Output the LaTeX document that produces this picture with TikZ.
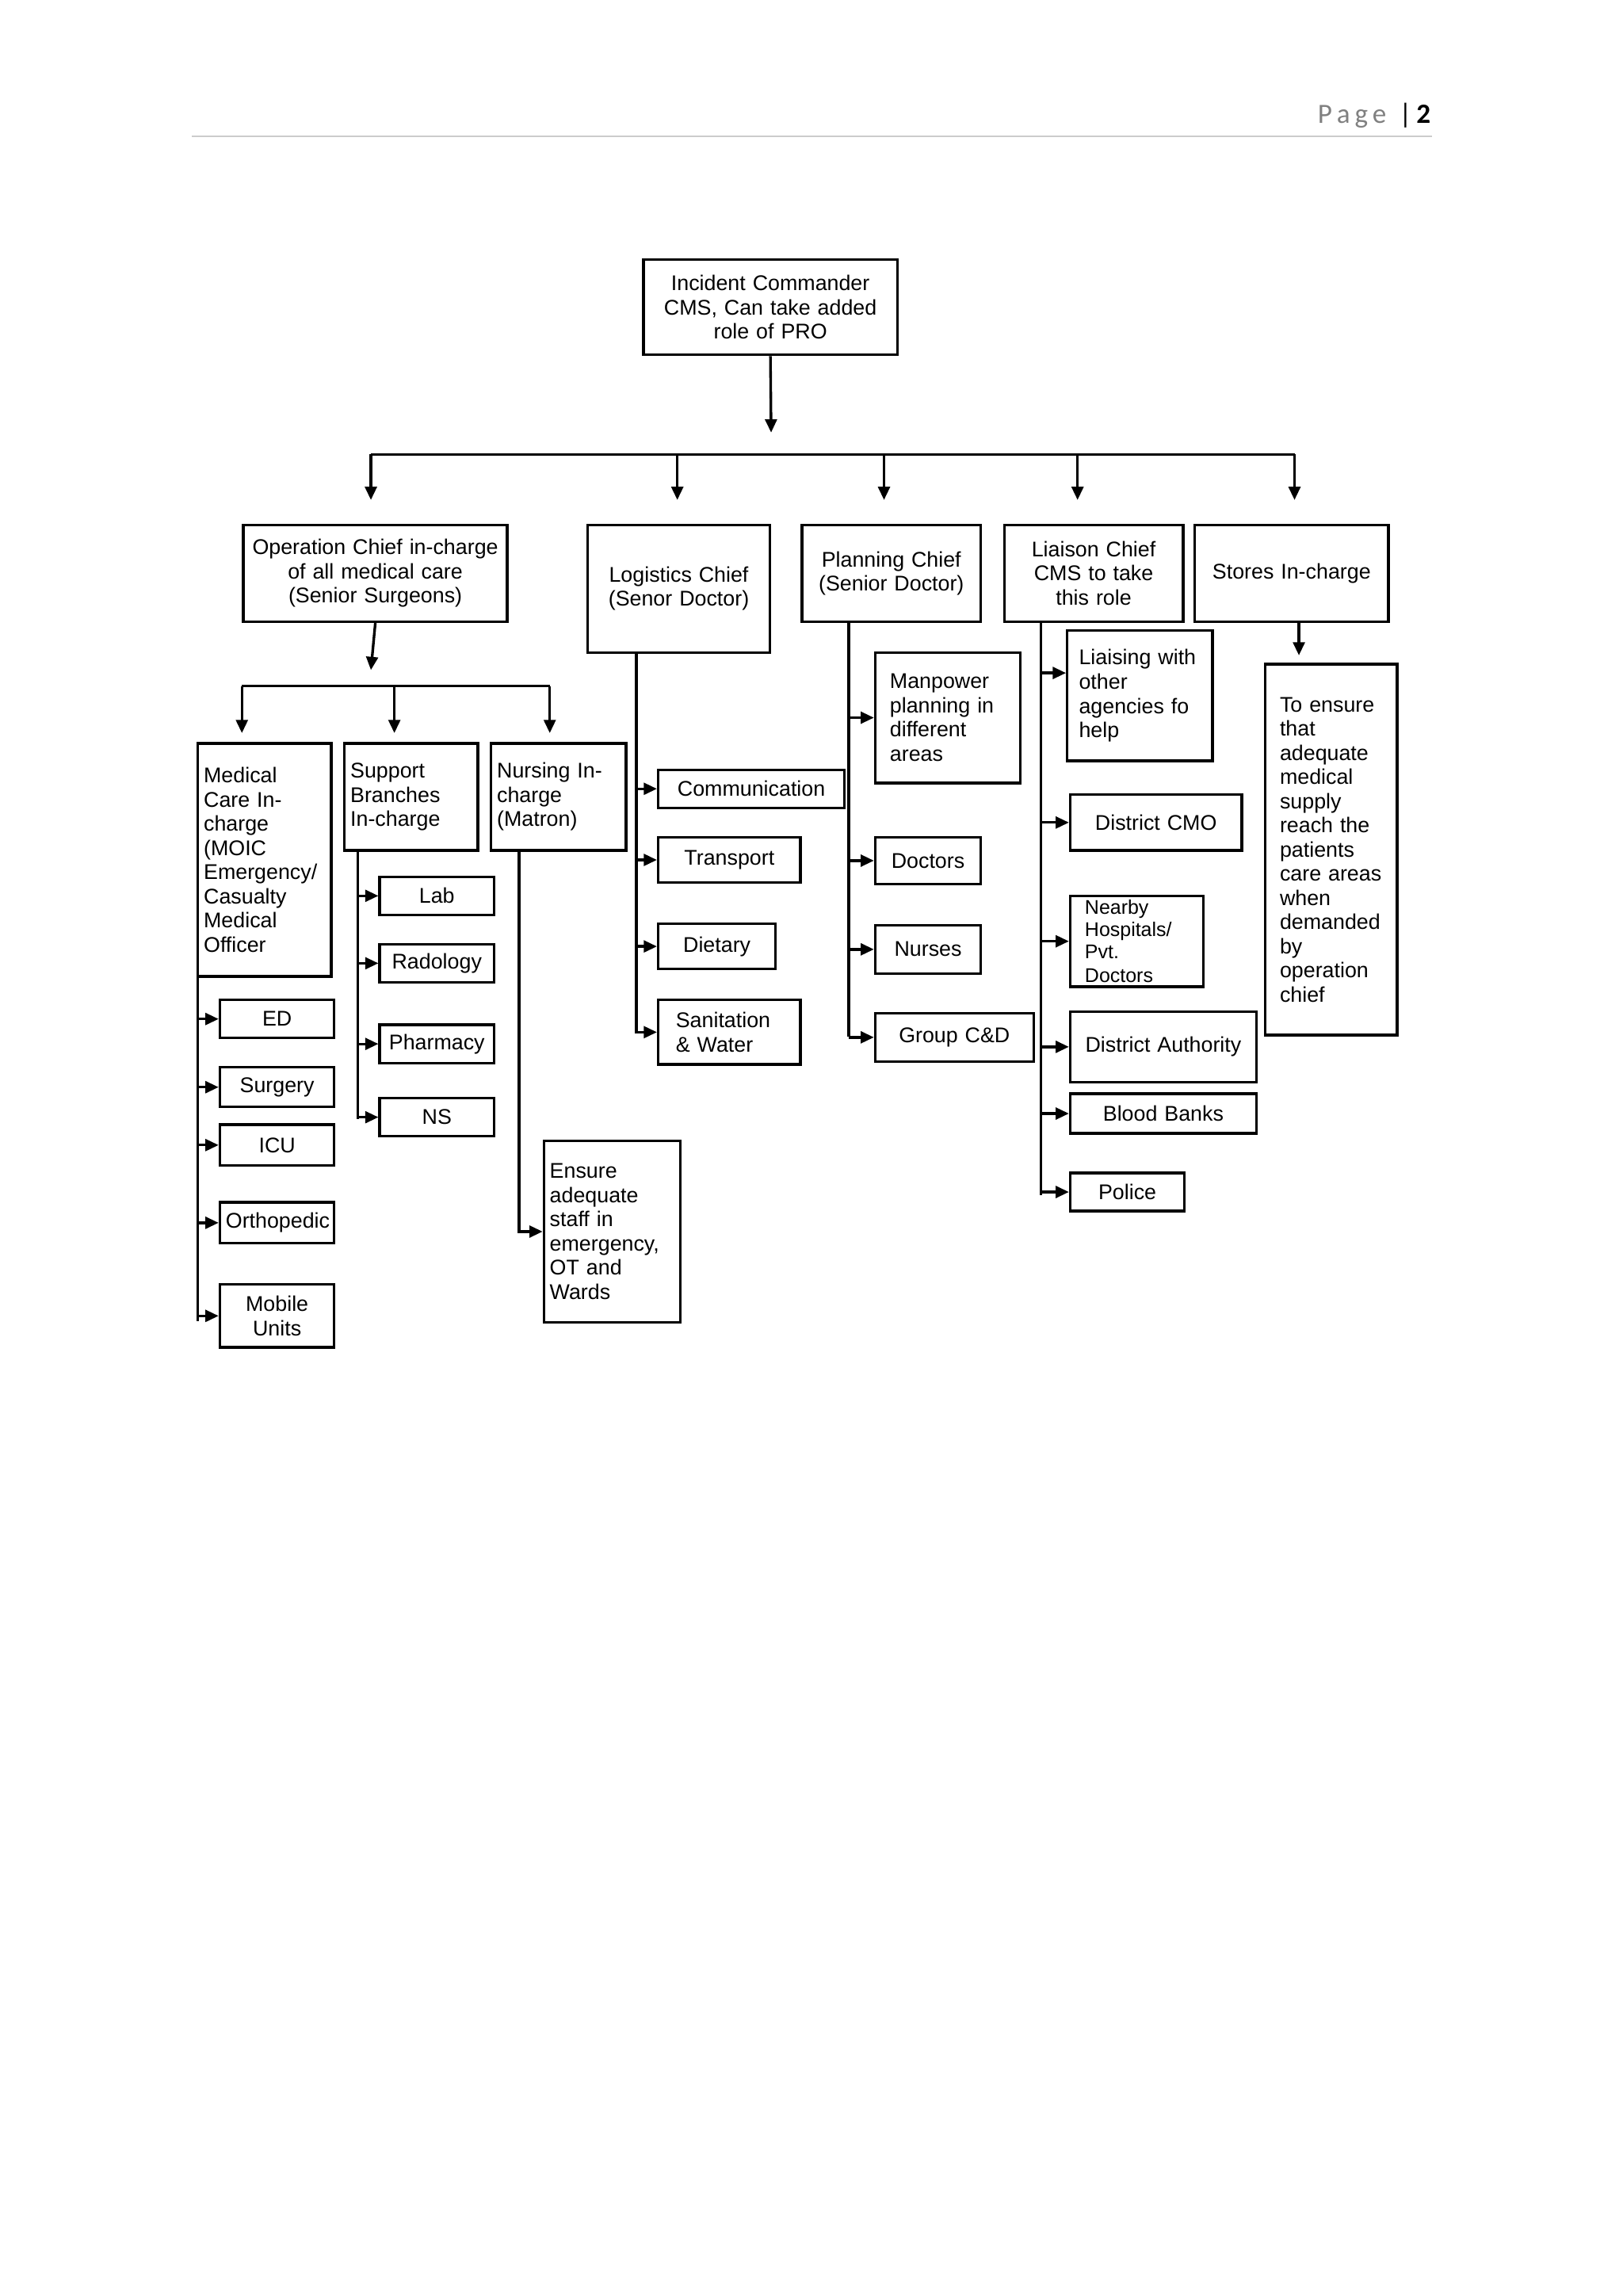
\documentclass[tikz,border=0pt]{standalone}
\usepackage{fontspec}
\setmainfont{Liberation Sans}
\newfontfamily\hdrfont{Carlito}
\usetikzlibrary{arrows.meta}
\newcommand\bx[7]{%
\pgfmathsetmacro\cx{(#2+#4)/2}\pgfmathsetmacro\cy{(#3+#5)/2}%
\pgfmathsetmacro\ww{#4-#2}\pgfmathsetmacro\hh{#5-#3}\pgfmathsetmacro\tw{#4-#2-8}%
\node[box,minimum width=\ww pt,minimum height=\hh pt,text width=\tw pt,align=#6] (#1) at (\cx,\cy) {#7};}
\begin{document}
\begin{tikzpicture}[x=1pt,y=-1pt,
  box/.style={draw,line width=1.8pt,inner xsep=4pt,inner ysep=0pt,font=\fontsize{14.5}{16.5}\selectfont},
  ln/.style={line width=1.8pt},
  arr/.style={line width=1.8pt,-{Triangle[length=9pt,width=8pt]}}]
\useasboundingbox[fill=white] (0,0) rectangle (1107,1566);
\node[anchor=east,font=\hdrfont\fontsize{19}{20}\selectfont,inner sep=0] (hdr) at (976,79) {\textcolor{gray}{P\,a\,g\,e}\ \ |\,\textbf{2}};
\draw[gray!40,line width=0.8pt] (131,93) coordinate (hl) -- (977,93) coordinate (hr);
\bx{ic}{439}{177}{612}{242}{center}{Incident Commander\\CMS, Can take added\\role of PRO}
\bx{op}{166}{358}{346}{424}{center}{Operation Chief in-charge\\of all medical care\\(Senior Surgeons)}
\bx{lg}{401}{358}{525}{445}{center}{Logistics Chief\\(Senor Doctor)}
\bx{pl}{547}{358}{669}{424}{center}{Planning Chief\\(Senior Doctor)}
\bx{li}{685}{358}{807}{424}{center}{Liaison Chief\\CMS to take\\this role}
\bx{st}{815}{358}{947}{424}{center}{Stores In-charge}
\coordinate (icend) at (526,295);
\draw[arr] (ic.south) -- (icend);
\coordinate (hL) at (253,310); \coordinate (hR) at (883,310);
\draw[ln] (hL) -- (hR);
\foreach \x/\n in {253/op,462/lg,603/pl,735/li,883/st}{\coordinate (t\n) at (\x,310); \draw[arr] (t\n) -- (\x,341);}
% operation
\coordinate (opa) at (253,457); \draw[arr] (op.south) -- (opa);
\coordinate (oL) at (165,468); \coordinate (oR) at (375,468);
\draw[ln] (oL) -- (oR);
\bx{md}{135}{507}{226}{666}{left}{Medical\\Care In-\\charge\\(MOIC\\Emergency/\\Casualty\\Medical\\Officer}
\bx{sp}{235}{507}{326}{580}{left}{Support\\Branches\\In-charge}
\bx{nu}{335}{507}{427}{580}{left}{Nursing In-\\charge\\(Matron)}
\draw[arr] (oL) -- (165,500); \draw[arr] (269,468) -- (269,500); \draw[arr] (oR) -- (375,500);
\bx{ed}{150}{682}{228}{708}{center}{ED}
\bx{su}{150}{728}{228}{755}{center}{Surgery}
\bx{icu}{150}{767}{228}{795}{center}{ICU}
\bx{or}{150}{820}{228}{848}{center}{Orthopedic}
\bx{mo}{150}{876}{228}{919}{center}{Mobile\\Units}
\coordinate (ms) at (135,666);
\draw[ln] (ms) -- (135,901);
\foreach \n in {ed,su,icu,or,mo} \draw[arr] (ms |- \n.west) -- (\n.west);
\bx{lab}{259}{598}{337}{624}{center}{Lab}
\bx{rad}{259}{644}{337}{670}{center}{Radology}
\bx{ph}{259}{699}{337}{725}{center}{Pharmacy}
\bx{ns}{259}{749}{337}{775}{center}{NS}
\coordinate (ss) at (244,580);
\draw[ln] (ss) -- (244,763);
\foreach \n in {lab,rad,ph,ns} \draw[arr] (ss |- \n.west) -- (\n.west);
\bx{en}{371}{778}{464}{902}{left}{Ensure\\adequate\\staff in\\emergency,\\OT and\\Wards}
\coordinate (ns2) at (354,580);
\draw[ln] (ns2) -- (354,841);
\draw[arr] (ns2 |- en.west) -- (en.west);
% logistics
\bx{com}{449}{525}{576}{551}{center}{Communication}
\bx{tr}{449}{571}{546}{602}{center}{Transport}
\bx{di}{449}{630}{529}{661}{center}{Dietary}
\bx{sa}{449}{682}{546}{726}{left}{\hspace*{8pt}Sanitation\\\hspace*{8pt}\& Water}
\coordinate (ls) at (434,445);
\draw[ln] (ls) -- (434,705);
\foreach \n in {com,tr,di,sa} \draw[arr] (ls |- \n.west) -- (\n.west);
% planning
\bx{mp}{597}{445}{696}{534}{left}{\hspace*{6pt}Manpower\\\hspace*{6pt}planning in\\\hspace*{6pt}different\\\hspace*{6pt}areas}
\bx{doc}{597}{571}{669}{603}{center}{Doctors}
\bx{nr}{597}{631}{669}{664}{center}{Nurses}
\bx{gc}{597}{691}{705}{724}{center}{Group C\&D}
\coordinate (ps) at (579,424);
\draw[ln] (ps) -- (579,707);
\foreach \n in {mp,doc,nr,gc} \draw[arr] (ps |- \n.west) -- (\n.west);
% liaison
\bx{la}{728}{430}{827}{519}{left}{\hspace*{4pt}Liaising with\\\hspace*{4pt}other\\\hspace*{4pt}agencies fo\\\hspace*{4pt}help}
\bx{cmo}{730}{542}{847}{580}{center}{District CMO}
\bx{nb}{730}{611}{821}{673}{left}{\fontsize{13.5}{15}\selectfont\hspace*{6pt}Nearby\\\hspace*{6pt}Hospitals/\\\hspace*{6pt}Pvt.\\\hspace*{6pt}Doctors}
\bx{da}{730}{690}{857}{738}{center}{District Authority}
\bx{bb}{730}{746}{857}{773}{center}{Blood Banks}
\bx{po}{730}{800}{808}{826}{center}{Police}
\coordinate (lis) at (710,424);
\draw[ln] (lis) -- (710,815);
\draw[arr] (710,459) -- (la.west |- 0,459);
\foreach \n in {cmo,nb,da,bb,po} \draw[arr] (lis |- \n.west) -- (\n.west);
% stores
\bx{so}{863}{453}{953}{706}{left}{\hspace*{6pt}To ensure\\\hspace*{6pt}that\\\hspace*{6pt}adequate\\\hspace*{6pt}medical\\\hspace*{6pt}supply\\\hspace*{6pt}reach the\\\hspace*{6pt}patients\\\hspace*{6pt}care areas\\\hspace*{6pt}when\\\hspace*{6pt}demanded\\\hspace*{6pt}by\\\hspace*{6pt}operation\\\hspace*{6pt}chief}
\draw[arr] (886,424) -- (886,447);
\end{tikzpicture}
\end{document}
